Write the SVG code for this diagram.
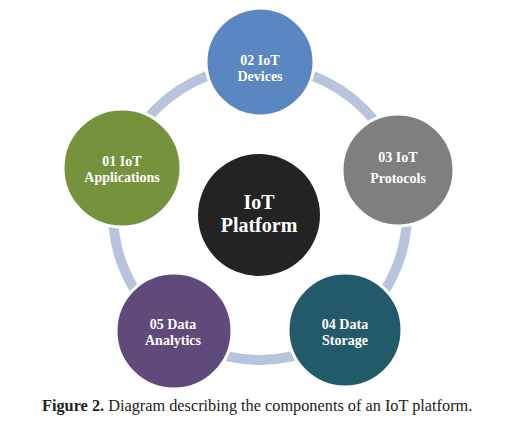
<svg xmlns="http://www.w3.org/2000/svg" width="518" height="432" viewBox="0 0 518 432">
<style>
.node{stroke:#fff;stroke-width:3}
.lbl{font-family:"Liberation Serif",serif;font-weight:bold;font-size:14px;fill:#fff;text-anchor:middle}
.big{font-size:20px}
.cap{font-family:"Liberation Serif",serif;font-size:16.3px;fill:#222}
</style>
<rect width="518" height="432" fill="#fff"/>
<g id="connectors">
<circle cx="260" cy="213" r="147" fill="none" stroke="#b7c4dc" stroke-width="10"/>
</g>
<g id="n02"><circle class="node" cx="260" cy="62" r="54" fill="#5a86c1"/>
<text class="lbl" x="260" y="65">02 IoT</text><text class="lbl" x="260" y="81">Devices</text></g>
<g id="n01"><circle class="node" cx="122" cy="168" r="59" fill="#77923d"/>
<text class="lbl" x="122" y="166">01 IoT</text><text class="lbl" x="122" y="182">Applications</text></g>
<g id="n03"><circle class="node" cx="398" cy="170" r="56" fill="#7f7f7f"/>
<text class="lbl" x="398" y="162">03 IoT</text><text class="lbl" x="398" y="183">Protocols</text></g>
<g id="center"><circle cx="259" cy="215" r="61" fill="#232323"/>
<text class="lbl big" x="259" y="209">IoT</text><text class="lbl big" x="259" y="232">Platform</text></g>
<g id="n05"><circle class="node" cx="174" cy="331" r="58" fill="#5f4a7b"/>
<text class="lbl" x="173" y="329">05 Data</text><text class="lbl" x="173" y="345">Analytics</text></g>
<g id="n04"><circle class="node" cx="345" cy="330" r="57" fill="#235a6a"/>
<text class="lbl" x="345" y="329">04 Data</text><text class="lbl" x="345" y="345">Storage</text></g>
<text class="cap" x="42" y="411"><tspan font-weight="bold">Figure 2.</tspan> Diagram describing the components of an IoT platform.</text>
</svg>
